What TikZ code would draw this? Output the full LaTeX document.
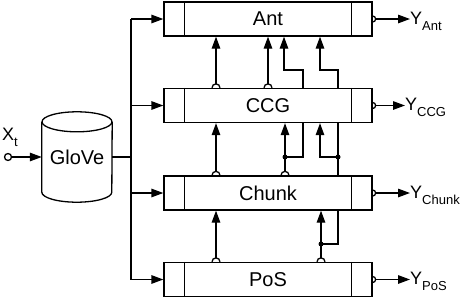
\documentclass[tikz,border=0pt]{standalone}
\usepackage{fontspec}
\setmainfont{Liberation Sans}
\usetikzlibrary{arrows.meta,calc}
\pgfdeclarelayer{bg}
\pgfsetlayers{bg,main}
\newcommand{\subtxt}[1]{\raisebox{-6pt}{\fontsize{13}{14}\selectfont #1}}
\begin{document}
\begin{tikzpicture}[x=1pt,y=-1pt,
  ln/.style={line width=1.3pt},
  arr/.style={line width=1.3pt, -{Triangle[length=12pt,width=8.5pt]}},
  layerbox/.style={draw, line width=1.3pt, fill=white, minimum width=208pt,
    minimum height=34pt, inner sep=0pt, font=\fontsize{20}{24}\selectfont},
  dotn/.style={circle, fill, inner sep=0pt, minimum size=5pt},
  ylab/.style={anchor=base west, inner sep=0pt, font=\fontsize{18}{20}\selectfont},
  hop/.style={line width=1.3pt}
]
\useasboundingbox (0,0) rectangle (464,300);

% layer boxes
\node[layerbox] (ant) at (268,19) {Ant};
\node[layerbox] (ccg) at (268,105.5) {CCG};
\node[layerbox] (chunk) at (268,193) {Chunk};
\node[layerbox] (pos) at (268,279.5) {PoS};
\foreach \b in {ant,ccg,chunk,pos}{
  \draw[ln] ($(\b.north west)+(21,0)$) -- ($(\b.south west)+(21,0)$);
  \draw[ln] ($(\b.north east)+(-21,0)$) -- ($(\b.south east)+(-21,0)$);
  \draw[hop] ($(\b.east)+(0,-3)$) arc[start angle=-90, end angle=90, radius=3];
}

% outputs
\node[ylab] (yant) at (410,24) {Y\subtxt{Ant}};
\node[ylab] (yccg) at (405,110.5) {Y\subtxt{CCG}};
\node[ylab] (ychunk) at (410,198) {Y\subtxt{Chunk}};
\node[ylab] (ypos) at (410,284.5) {Y\subtxt{PoS}};
\draw[arr] ($(ant.east)+(3,0)$) -- (ant.east -| yant.west);
\draw[arr] ($(ccg.east)+(3,0)$) -- (ccg.east -| yccg.west);
\draw[arr] ($(chunk.east)+(3,0)$) -- (chunk.east -| ychunk.west);
\draw[arr] ($(pos.east)+(3,0)$) -- (pos.east -| ypos.west);

% GloVe cylinder
\node[minimum width=70pt, minimum height=70pt, inner sep=0pt,
  font=\fontsize{20}{24}\selectfont] (glove) at (77,157) {GloVe};
\draw[ln] (glove.north west) -- (glove.south west)
  arc[x radius=35, y radius=10, start angle=180, end angle=0]
  -- (glove.north east);
\draw[ln] (glove.north) ellipse[x radius=35, y radius=10];

% input
\node[circle, draw, line width=1.3pt, inner sep=0pt, minimum size=7pt] (xin) at (8,157) {};
\node[anchor=base west, inner sep=0pt, font=\fontsize{18}{20}\selectfont] (xlab) at (2,140) {X\subtxt{t}};
\draw[arr] (xin) -- (glove.west);

% bus
\coordinate (bus) at (131,157);
\draw[ln] (glove.east) -- (bus);
\draw[ln] (bus |- ant.west) -- (bus |- pos.west);
\foreach \b in {ant,ccg,chunk,pos}{
  \draw[arr] (bus |- \b.west) -- (\b.west);
}

% columns
\coordinate (xa) at (216,0);
\coordinate (xb) at (268,0);
\coordinate (xc) at (285,0);
\coordinate (xd) at (321,0);
\coordinate (xg) at (284,0);
\coordinate (xh) at (320,0);
\coordinate (k1) at (303,70);
\coordinate (k2) at (338,70);

% hops and vertical arrows
\foreach \c/\s/\t in {xa/ccg/ant, xb/ccg/ant, xa/chunk/ccg, xc/chunk/ccg, xa/pos/chunk, xd/pos/chunk}{
  \draw[hop] ($(\c |- \s.north)+(-4,0)$) arc[start angle=180, end angle=360, radius=4];
  \draw[arr] ($(\c |- \s.north)+(0,-4)$) -- (\c |- \t.south);
}

% branches
\node[dotn] (d1) at (285,157) {};
\node[dotn] (d2) at (338,157) {};
\node[dotn] (d3) at (321,244) {};
\begin{pgfonlayer}{bg}
\draw[arr] (d1.center) -| (k1) -| (xg |- ant.south);
\draw[arr] (d3.center) -| (k2) -| (xh |- ant.south);
\end{pgfonlayer}
\draw[arr] (d2.center) -| (xh |- ccg.south);
\end{tikzpicture}
\end{document}
